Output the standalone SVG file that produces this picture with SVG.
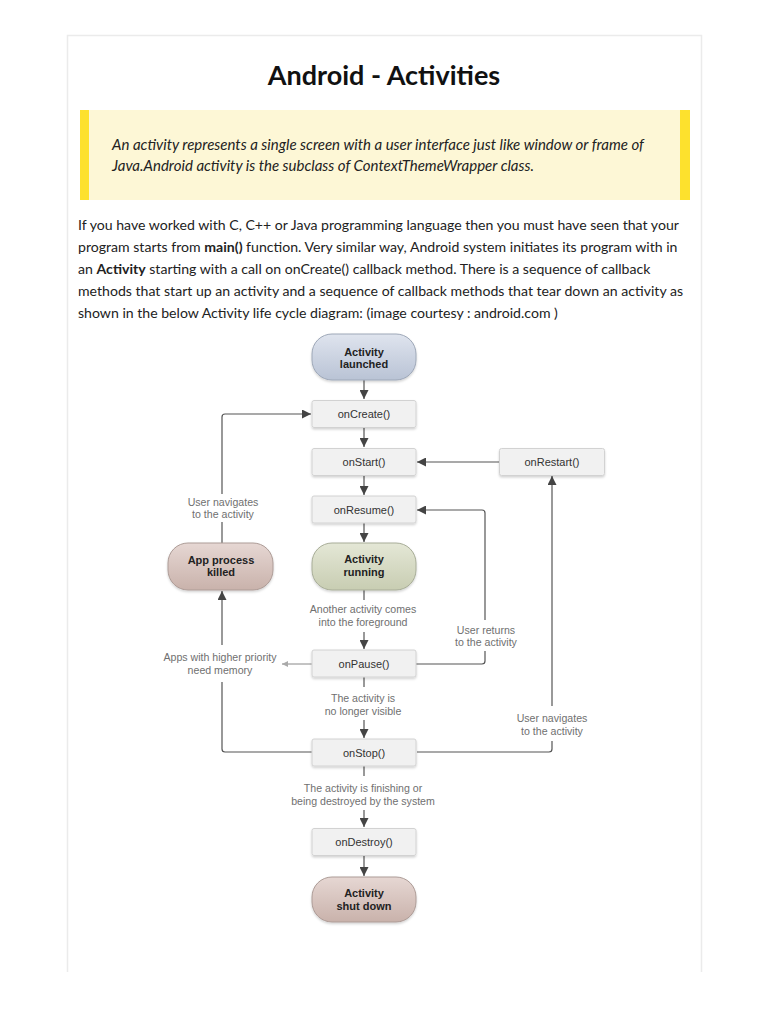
<svg xmlns="http://www.w3.org/2000/svg" width="768" height="1024" viewBox="0 0 768 1024">
<style>
.page{font-family:Lato,"Open Sans","Liberation Sans",sans-serif;fill:#1f1f1f}
.title{font-size:27px;font-weight:bold;fill:#111}
.quote{font-size:15px;font-style:italic;fill:#222}
.para{font-size:14.1px;fill:#222}
.b{font-weight:bold}
.box{fill:#f1f1f1;stroke:#d2d2d2;stroke-width:1}
.bt{font-family:"Liberation Sans",Arial,sans-serif;font-size:11px;fill:#333;text-anchor:middle}
.pt{font-family:"Liberation Sans",Arial,sans-serif;font-size:11px;font-weight:bold;fill:#222;text-anchor:middle}
.lbl{font-family:"Liberation Sans",Arial,sans-serif;font-size:10.6px;fill:#707070;text-anchor:middle}
.ln{fill:none;stroke:#555;stroke-width:1.2}
.lnl{fill:none;stroke:#888;stroke-width:1}
</style>
<defs>
<marker id="ah" viewBox="0 0 10 10" refX="10" refY="5" markerWidth="9" markerHeight="9" markerUnits="userSpaceOnUse" orient="auto">
<path d="M0,0 L10,5 L0,10 z" fill="#444"/>
</marker>
<marker id="ahl" viewBox="0 0 10 10" refX="10" refY="5" markerWidth="6" markerHeight="6" markerUnits="userSpaceOnUse" orient="auto">
<path d="M0,0 L10,5 L0,10 z" fill="#aaa"/>
</marker>
<linearGradient id="gBlue" x1="0" y1="0" x2="0" y2="1"><stop offset="0" stop-color="#dfe4ee"/><stop offset="1" stop-color="#b9c3d5"/></linearGradient>
<linearGradient id="gGreen" x1="0" y1="0" x2="0" y2="1"><stop offset="0" stop-color="#e4e7d6"/><stop offset="1" stop-color="#c8cdb2"/></linearGradient>
<linearGradient id="gRed" x1="0" y1="0" x2="0" y2="1"><stop offset="0" stop-color="#e6d7d3"/><stop offset="1" stop-color="#c9b2ab"/></linearGradient>
<filter id="sh" x="-10%" y="-20%" width="120%" height="150%"><feDropShadow dx="0" dy="1.5" stdDeviation="1" flood-color="#000" flood-opacity="0.18"/></filter>
</defs>

<rect width="768" height="1024" fill="#ffffff"/>
<!-- card -->
<path d="M67.5,972 V35.5 H701.5 V972" fill="none" stroke="#ebebeb" stroke-width="1.5"/>

<g id="title"><text class="page title" x="384" y="85" text-anchor="middle">Android - Activities</text></g>

<g id="note">
<rect x="80" y="110" width="610" height="90" fill="#fdf7d6"/>
<rect x="80" y="110" width="9" height="90" fill="#fde12d"/>
<rect x="680" y="110" width="10" height="90" fill="#fde12d"/>
<text class="page quote" x="112" y="150">An activity represents a single screen with a user interface just like window or frame of</text>
<text class="page quote" x="112" y="171">Java.Android activity is the subclass of ContextThemeWrapper class.</text>
</g>

<g id="para">
<text class="page para" x="78" y="230">If you have worked with C, C++ or Java programming language then you must have seen that your</text>
<text class="page para" x="78" y="252">program starts from <tspan class="b">main()</tspan> function. Very similar way, Android system initiates its program with in</text>
<text class="page para" x="78" y="274">an <tspan class="b">Activity</tspan> starting with a call on onCreate() callback method. There is a sequence of callback</text>
<text class="page para" x="78" y="296">methods that start up an activity and a sequence of callback methods that tear down an activity as</text>
<text class="page para" x="78" y="318">shown in the below Activity life cycle diagram: (image courtesy : android.com )</text>
</g>

<!-- connectors -->
<g id="connectors">
<line class="ln" x1="364" y1="380" x2="364" y2="399" marker-end="url(#ah)"/>
<line class="ln" x1="364" y1="428" x2="364" y2="447" marker-end="url(#ah)"/>
<line class="ln" x1="364" y1="475" x2="364" y2="495" marker-end="url(#ah)"/>
<line class="ln" x1="364" y1="523" x2="364" y2="542" marker-end="url(#ah)"/>
<line class="ln" x1="364" y1="590" x2="364" y2="600"/>
<line class="ln" x1="364" y1="632" x2="364" y2="649" marker-end="url(#ah)"/>
<line class="ln" x1="364" y1="677" x2="364" y2="687"/>
<line class="ln" x1="364" y1="720" x2="364" y2="738" marker-end="url(#ah)"/>
<line class="ln" x1="364" y1="766" x2="364" y2="776"/>
<line class="ln" x1="364" y1="810" x2="364" y2="827" marker-end="url(#ah)"/>
<line class="ln" x1="364" y1="856" x2="364" y2="876" marker-end="url(#ah)"/>
<!-- onRestart -> onStart -->
<line class="ln" x1="499" y1="462" x2="417" y2="462" marker-end="url(#ah)"/>
<!-- user navigates to the activity (left loop) -->
<path class="ln" d="M222,543 V522"/>
<path class="ln" d="M222,494 V417 Q222,414 225,414 H311" marker-end="url(#ah)"/>
<!-- onPause -> user returns -> onResume -->
<path class="ln" d="M416,664 H482 Q485,664 485,661 V651"/>
<path class="ln" d="M485,620 V513 Q485,510 482,510 H417" marker-end="url(#ah)"/>
<!-- onStop -> user navigates -> onRestart -->
<path class="ln" d="M417,752 H549 Q552,752 552,749 V741"/>
<path class="ln" d="M552,706 V476" marker-end="url(#ah)"/>
<!-- onPause -> apps with higher priority -->
<line class="lnl" x1="312" y1="664" x2="282" y2="664" marker-end="url(#ahl)"/>
<!-- onStop -> app process killed -->
<path class="ln" d="M312,752 H225 Q222,752 222,749 V682"/>
<path class="ln" d="M222,645 V591" marker-end="url(#ah)"/>
</g>

<g id="n-launched"><rect x="312" y="334" width="104" height="46" rx="20" fill="url(#gBlue)" stroke="#9ea8b8" filter="url(#sh)"/><text class="pt" x="364" y="356">Activity</text><text class="pt" x="364" y="368">launched</text></g>
<g id="n-oncreate"><rect class="box" x="312" y="400.5" width="104" height="27" rx="2" filter="url(#sh)"/><text class="bt" x="364" y="418">onCreate()</text></g>
<g id="n-onstart"><rect class="box" x="312" y="448.5" width="104" height="27" rx="2" filter="url(#sh)"/><text class="bt" x="364" y="466">onStart()</text></g>
<g id="n-onrestart"><rect class="box" x="499.5" y="448.5" width="105" height="27" rx="2" filter="url(#sh)"/><text class="bt" x="552" y="466">onRestart()</text></g>
<g id="n-onresume"><rect class="box" x="312" y="496" width="104" height="27" rx="2" filter="url(#sh)"/><text class="bt" x="364" y="513.5">onResume()</text></g>
<g id="n-running"><rect x="312" y="543" width="104" height="47" rx="20" fill="url(#gGreen)" stroke="#a8ad98" filter="url(#sh)"/><text class="pt" x="364" y="563">Activity</text><text class="pt" x="364" y="576">running</text></g>
<g id="n-killed"><rect x="168" y="543" width="105" height="47" rx="20" fill="url(#gRed)" stroke="#ad9c97" filter="url(#sh)"/><text class="pt" x="221" y="564">App process</text><text class="pt" x="221" y="576">killed</text></g>
<g id="n-onpause"><rect class="box" x="312" y="650" width="104" height="27" rx="2" filter="url(#sh)"/><text class="bt" x="364" y="667.5">onPause()</text></g>
<g id="n-onstop"><rect class="box" x="312" y="739" width="104" height="27" rx="2" filter="url(#sh)"/><text class="bt" x="364" y="756.5">onStop()</text></g>
<g id="n-ondestroy"><rect class="box" x="312" y="828.5" width="104" height="27" rx="2" filter="url(#sh)"/><text class="bt" x="364" y="846">onDestroy()</text></g>
<g id="n-shutdown"><rect x="312" y="877" width="104" height="45" rx="20" fill="url(#gRed)" stroke="#ad9c97" filter="url(#sh)"/><text class="pt" x="364" y="897">Activity</text><text class="pt" x="364" y="910">shut down</text></g>

<g id="labels">
<text class="lbl" x="223" y="506">User navigates</text><text class="lbl" x="223" y="518">to the activity</text>
<text class="lbl" x="363" y="613">Another activity comes</text><text class="lbl" x="363" y="626">into the foreground</text>
<text class="lbl" x="486" y="634">User returns</text><text class="lbl" x="486" y="646">to the activity</text>
<text class="lbl" x="220" y="661">Apps with higher priority</text><text class="lbl" x="220" y="674">need memory</text>
<text class="lbl" x="363" y="702">The activity is</text><text class="lbl" x="363" y="715">no longer visible</text>
<text class="lbl" x="552" y="722">User navigates</text><text class="lbl" x="552" y="735">to the activity</text>
<text class="lbl" x="363" y="792">The activity is finishing or</text><text class="lbl" x="363" y="805">being destroyed by the system</text>
</g>
</svg>
